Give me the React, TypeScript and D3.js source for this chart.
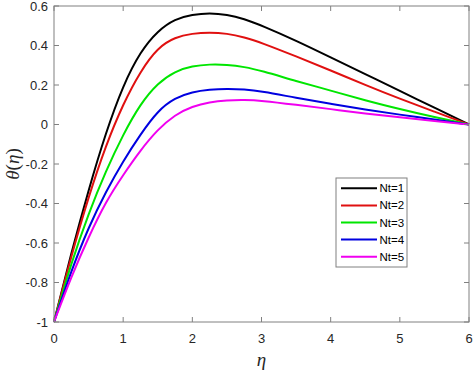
import React from 'react';
import * as d3 from 'd3';

// eta grid shared by all curves
const eta = [0, 0.25, 0.5, 0.75, 1, 1.25, 1.5, 1.75, 2, 2.25, 2.5, 2.75, 3, 3.5, 4, 4.5, 5, 5.5, 6];

const nt1 = [-1, -0.65, -0.33, -0.04, 0.2, 0.37, 0.475, 0.535, 0.557, 0.565, 0.557, 0.535, 0.502, 0.425, 0.34, 0.255, 0.17, 0.085, 0];
const nt2 = [-1, -0.665, -0.365, -0.105, 0.105, 0.27, 0.39, 0.442, 0.461, 0.467, 0.461, 0.442, 0.414, 0.345, 0.274, 0.2, 0.13, 0.065, 0];
const nt3 = [-1, -0.7, -0.45, -0.235, -0.05, 0.105, 0.21, 0.27, 0.296, 0.305, 0.303, 0.292, 0.272, 0.22, 0.172, 0.122, 0.078, 0.037, 0];
const nt4 = [-1, -0.74, -0.52, -0.34, -0.185, -0.05, 0.07, 0.135, 0.165, 0.177, 0.181, 0.178, 0.168, 0.135, 0.105, 0.075, 0.05, 0.025, 0];
const nt5 = [-1, -0.77, -0.57, -0.39, -0.255, -0.13, -0.025, 0.05, 0.092, 0.114, 0.123, 0.125, 0.121, 0.1, 0.078, 0.055, 0.036, 0.018, 0];

const seriesNames = ['Nt=1', 'Nt=2', 'Nt=3', 'Nt=4', 'Nt=5'];
const seriesValues = [nt1, nt2, nt3, nt4, nt5];
const seriesColors = ['#000000', '#e01010', '#00e600', '#0000e0', '#f000f0'];

const xTicks = [0, 1, 2, 3, 4, 5, 6];
const yTicks = [-1, -0.8, -0.6, -0.4, -0.2, 0, 0.2, 0.4, 0.6];

export default function App() {
  const width = 474, height = 374;
  const left = 54, right = 469, top = 6, bottom = 322;

  const x = d3.scaleLinear().domain([0, 6]).range([left, right]);
  const y = d3.scaleLinear().domain([-1, 0.6]).range([bottom, top]);

  const line = d3.line<number>()
    .x((d, i) => x(eta[i]))
    .y(d => y(d))
    .curve(d3.curveBasis);

  const axisColor = '#808080';
  const textColor = '#262626';
  const tickLen = 5;

  const legX = 336, legY = 178, legW = 71, legH = 89, rowH = 17.1;

  return (
    <svg width={width} height={height}
      style={{ position: 'absolute', left: 0, top: 0, background: '#fff' }}
      fontFamily="'Liberation Sans', Arial, sans-serif">
      <rect x={0} y={0} width={width} height={height} fill="#fff" />

      {seriesValues.map((vals, i) => (
        <path key={i} d={line(vals) || ''} fill="none" stroke={seriesColors[i]} strokeWidth={2} />
      ))}

      <rect x={left} y={top} width={right - left} height={bottom - top} fill="none" stroke={axisColor} strokeWidth={1} />

      {xTicks.map(t => (
        <g key={'x' + t}>
          <line x1={x(t)} x2={x(t)} y1={bottom} y2={bottom - tickLen} stroke={axisColor} />
          <line x1={x(t)} x2={x(t)} y1={top} y2={top + tickLen} stroke={axisColor} />
          <text x={x(t)} y={343} textAnchor="middle" fontSize={13} fill={textColor}>{d3.format('d')(t)}</text>
        </g>
      ))}

      {yTicks.map(t => (
        <g key={'y' + t}>
          <line x1={left} x2={left + tickLen} y1={y(t)} y2={y(t)} stroke={axisColor} />
          <line x1={right} x2={right - tickLen} y1={y(t)} y2={y(t)} stroke={axisColor} />
          <text x={48} y={y(t) + 4.5} textAnchor="end" fontSize={13} fill={textColor}>
            {String(Math.round(t * 10) / 10)}
          </text>
        </g>
      ))}

      <text x={x(3)} y={366} textAnchor="middle" fontSize={19} fontStyle="italic"
        fontFamily="'Liberation Serif', 'Times New Roman', serif" fill={textColor}>η</text>

      <text transform={`translate(19,${(top + bottom) / 2}) rotate(-90)`} textAnchor="middle" fontSize={19}
        fontFamily="'Liberation Serif', 'Times New Roman', serif" fill={textColor}>
        <tspan fontStyle="italic">θ</tspan>(<tspan fontStyle="italic">η</tspan>)
      </text>

      <rect x={legX} y={legY} width={legW} height={legH} fill="#fff" stroke={axisColor} strokeWidth={1} />
      {seriesNames.map((name, i) => {
        const ry = legY + 10.3 + i * rowH;
        return (
          <g key={name}>
            <line x1={legX + 5} x2={legX + 41} y1={ry} y2={ry} stroke={seriesColors[i]} strokeWidth={2} />
            <text x={legX + 43.5} y={ry + 4} fontSize={11.5} fill="#000">{name}</text>
          </g>
        );
      })}
    </svg>
  );
}
